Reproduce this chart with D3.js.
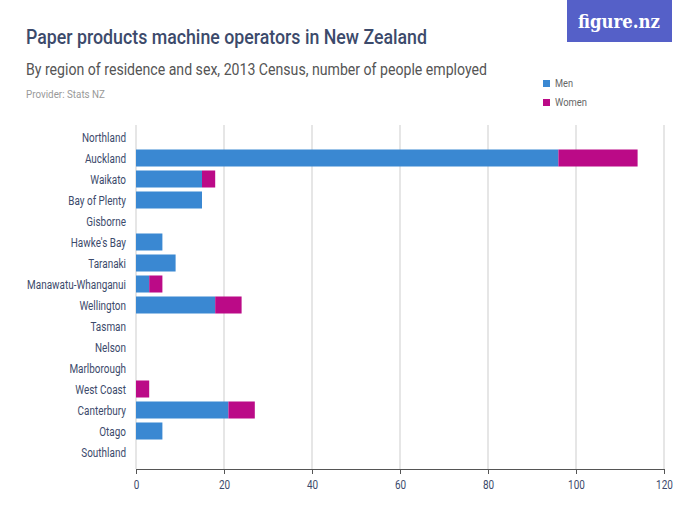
<!DOCTYPE html>
<html>
<head>
<meta charset="utf-8">
<title>Paper products machine operators in New Zealand</title>
<script src="https://d3js.org/d3.v7.min.js"></script>
<style>
  body { margin: 0; background: #fff; }
  svg text { font-family: Roboto, "Noto Sans", sans-serif; }
</style>
</head>
<body>
<script>
// regions, top to bottom
var regions = ["Northland", "Auckland", "Waikato", "Bay of Plenty", "Gisborne", "Hawke's Bay",
  "Taranaki", "Manawatu-Whanganui", "Wellington", "Tasman", "Nelson", "Marlborough",
  "West Coast", "Canterbury", "Otago", "Southland"];
var men   = [0, 96, 15, 15, 0, 6, 9, 3, 18, 0, 0, 0, 0, 21, 6, 0];
var women = [0, 18, 3, 0, 0, 0, 0, 3, 6, 0, 0, 0, 3, 6, 0, 0];
var xTicks = [0, 20, 40, 60, 80, 100, 120];
var seriesNames = ["Men", "Women"];
var seriesColors = ["#3a88d2", "#bb0a87"];

var width = 700, height = 525;
var svg = d3.select("body").append("svg")
  .attr("width", width)
  .attr("height", height);

// squeeze a text horizontally so it looks like the narrow font of the original
function narrow(sel, w) {
  sel.attr("textLength", w).attr("lengthAdjust", "spacingAndGlyphs");
}

// logo
svg.append("rect")
  .attr("x", 567).attr("y", 0)
  .attr("width", 105).attr("height", 42)
  .attr("fill", "#5560c8");
svg.append("text")
  .attr("x", 578).attr("y", 28)
  .style("font-family", "'DejaVu Serif', serif")
  .style("font-weight", "bold")
  .style("font-size", "18px")
  .attr("fill", "#fff")
  .text("figure.nz")
  .call(narrow, 82);

// titles
svg.append("text")
  .attr("x", 26).attr("y", 44)
  .attr("fill", "#3c4a6b")
  .style("font-size", "20px")
  .style("font-weight", 500)
  .text("Paper products machine operators in New Zealand")
  .call(narrow, 401);
svg.append("text")
  .attr("x", 26).attr("y", 75)
  .attr("fill", "#555")
  .style("font-size", "16px")
  .text("By region of residence and sex, 2013 Census, number of people employed")
  .call(narrow, 461);
svg.append("text")
  .attr("x", 26).attr("y", 98)
  .attr("fill", "#999")
  .style("font-size", "11px")
  .text("Provider: Stats NZ")
  .call(narrow, 79);

// legend
var legendWidths = [18, 32];
var legend = svg.selectAll("g.legend")
  .data(seriesNames)
  .enter().append("g")
  .attr("class", "legend")
  .attr("transform", function(d, i) { return "translate(543," + (80 + i * 19) + ")"; });
legend.append("rect")
  .attr("width", 7).attr("height", 7)
  .attr("fill", function(d, i) { return seriesColors[i]; });
legend.append("text")
  .attr("x", 12).attr("y", 7)
  .attr("fill", "#666")
  .style("font-size", "11px")
  .attr("textLength", function(d, i) { return legendWidths[i]; })
  .attr("lengthAdjust", "spacingAndGlyphs")
  .text(function(d) { return d; });

// scales
var x = d3.scaleLinear().domain([0, 120]).range([136, 664]);
var y = d3.scaleBand().domain(regions).range([126.5, 462.5]).paddingInner(0.19).paddingOuter(0.095);

// gridlines
svg.append("g")
  .selectAll("line")
  .data(xTicks)
  .enter().append("line")
  .attr("x1", function(d) { return x(d); })
  .attr("x2", function(d) { return x(d); })
  .attr("y1", 125).attr("y2", 469)
  .attr("stroke", "#d6d6d6")
  .attr("stroke-width", 1.2);

// stacked bars
var rows = regions.map(function(r, i) { return { region: r, Men: men[i], Women: women[i] }; });
var stack = d3.stack().keys(seriesNames)(rows);

svg.append("g")
  .selectAll("g")
  .data(stack)
  .enter().append("g")
  .attr("fill", function(d, i) { return seriesColors[i]; })
  .selectAll("rect")
  .data(function(d) { return d; })
  .enter().append("rect")
  .attr("x", function(d) { return x(d[0]); })
  .attr("width", function(d) { return x(d[1]) - x(d[0]); })
  .attr("y", function(d) { return y(d.data.region); })
  .attr("height", y.bandwidth());

// y labels
var labels = svg.append("g")
  .selectAll("g")
  .data(regions)
  .enter().append("g");
labels.append("text")
  .attr("dy", "0.35em")
  .attr("text-anchor", "end")
  .attr("fill", "#3c4a6b")
  .style("font-size", "13px")
  .text(function(d) { return d; });
// widest label is about 99px wide in the original
var widest = d3.max(labels.selectAll("text").nodes(), function(n) { return n.getComputedTextLength(); });
var sx = 99 / widest;
labels.attr("transform", function(d) {
  return "translate(126," + (y(d) + y.bandwidth() / 2) + ") scale(" + sx + ",1)";
});

// x axis
var xAxis = svg.append("g")
  .attr("transform", "translate(0,469)")
  .call(d3.axisBottom(x).tickValues(xTicks).tickSize(5).tickSizeOuter(0).tickPadding(6));
xAxis.select(".domain").attr("stroke", "#555").attr("stroke-width", 1.2);
xAxis.selectAll(".tick line").attr("stroke", "#555");
xAxis.selectAll(".tick text")
  .attr("fill", "#3c4a6b")
  .style("font-size", "13px")
  .style("font-family", "Roboto, sans-serif")
  .attr("transform", "scale(" + sx + ",1)");
</script>
</body>
</html>
